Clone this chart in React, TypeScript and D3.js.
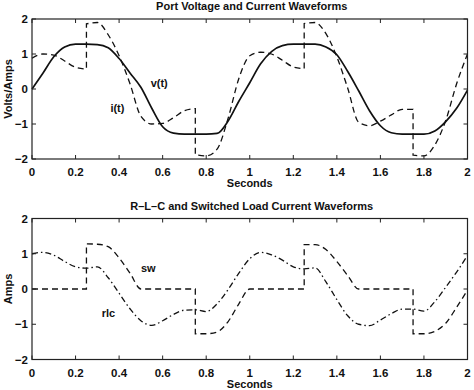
import React from "react";
import * as d3 from "d3";

// sample times (s); jumps happen at the switching instants
const times = [
  0, 0.05, 0.1, 0.15, 0.2, 0.25, 0.3, 0.35, 0.4, 0.45, 0.5, 0.55, 0.6, 0.65, 0.7, 0.75, 0.8, 0.85, 0.9, 0.95,
  1, 1.05, 1.1, 1.15, 1.2, 1.25, 1.3, 1.35, 1.4, 1.45, 1.5, 1.55, 1.6, 1.65, 1.7, 1.75, 1.8, 1.85, 1.9, 1.95, 2,
];
const jumpTimes = [0.25, 0.75, 1.25, 1.75];

// port voltage v(t)
const vData = [
  0, 0.45, 0.92, 1.2, 1.28, 1.28, 1.27, 1.18, 0.87, 0.46, 0.05, -0.55, -1.08, -1.26, -1.29, -1.29, -1.29, -1.27, -0.92, -0.35,
  0.18, 0.72, 1.07, 1.24, 1.28, 1.28, 1.28, 1.2, 0.98, 0.5, -0.05, -0.62, -1.05, -1.25, -1.29, -1.29, -1.29, -1.2, -0.93, -0.55, -0.03,
];
// port current i(t), value just after each instant; iPreJump = value just before the jump
const iData = [
  0.88, 1.0, 0.97, 0.8, 0.62, 1.86, 1.9, 1.55, 0.95, 0.15, -0.78, -1.0, -0.98, -0.82, -0.62, -1.88, -1.91, -1.72, -0.85, 0.3,
  0.95, 1.05, 1.0, 0.82, 0.63, 1.87, 1.9, 1.58, 0.92, 0.02, -0.95, -1.05, -0.92, -0.74, -0.58, -1.89, -1.91, -1.6, -0.9, 0.15, 1.0,
];
const iPreJump = [0.57, -0.56, 0.58, -0.58];

// R-L-C branch current
const rlcData = [
  1.0, 1.04, 0.96, 0.78, 0.63, 0.59, 0.63, 0.32, -0.12, -0.56, -0.9, -1.03, -0.9, -0.72, -0.6, -0.59, -0.64, -0.42, -0.02, 0.45,
  0.86, 1.04, 0.97, 0.82, 0.63, 0.57, 0.6, 0.2, -0.3, -0.76, -1.0, -1.04, -0.88, -0.7, -0.57, -0.57, -0.63, -0.36, 0.05, 0.48, 0.95,
];
// switched load current
const swData = [
  0, 0, 0, 0, 0, 1.28, 1.27, 1.2, 0.88, 0.45, 0, 0, 0, 0, 0, -1.27, -1.27, -1.22, -0.93, -0.42,
  0, 0, 0, 0, 0, 1.26, 1.26, 1.12, 0.78, 0.38, 0, 0, 0, 0, 0, -1.27, -1.27, -1.2, -0.97, -0.52, -0.03,
];
const swPreJump = [0, 0, 0, 0];

const xTicks = [0, 0.2, 0.4, 0.6, 0.8, 1, 1.2, 1.4, 1.6, 1.8, 2];
const yTicks = [-2, -1, 0, 1, 2];

const W = 474;
const H = 390;
const left = 32;
const right = 467.5;
const font = "'Liberation Sans', Arial, Helvetica, sans-serif";

const x = d3.scaleLinear().domain([0, 2]).range([left, right]);

function buildPath(vals: number[], pre: number[] | null, y: d3.ScaleLinear<number, number>) {
  const line = d3
    .line<[number, number]>()
    .x(d => x(d[0]))
    .y(d => y(d[1]))
    .curve(d3.curveMonotoneX);
  const segs: [number, number][][] = [];
  let cur: [number, number][] = [];
  times.forEach((t, k) => {
    const j = jumpTimes.indexOf(t);
    if (pre && j >= 0) {
      cur.push([t, pre[j]]);
      segs.push(cur);
      cur = [[t, vals[k]]];
    } else {
      cur.push([t, vals[k]]);
    }
  });
  segs.push(cur);
  return segs.map((s, n) => (n === 0 ? line(s) : "L" + (line(s) as string).slice(1))).join("");
}

const Panel: React.FC<{
  top: number;
  bottom: number;
  title: string;
  ylabel: string;
  children: (y: d3.ScaleLinear<number, number>) => React.ReactNode;
}> = ({ top, bottom, title, ylabel, children }) => {
  const y = d3.scaleLinear().domain([-2, 2]).range([bottom, top]);
  const tk = 4;
  return (
    <g>
      <text x={(left + right) / 2 + 2} y={top - 9} textAnchor="middle" fontSize={11} fontFamily={font} fontWeight="bold" fill="#111">
        {title}
      </text>
      {children(y)}
      <rect x={left} y={top} width={right - left} height={bottom - top} fill="none" stroke="#222" strokeWidth={1.2} />
      {xTicks.map(t => (
        <g key={"x" + t}>
          <line x1={x(t)} x2={x(t)} y1={bottom} y2={bottom - tk} stroke="#222" />
          <line x1={x(t)} x2={x(t)} y1={top} y2={top + tk} stroke="#222" />
          <text x={x(t)} y={bottom + 17} textAnchor="middle" fontSize={11.5} fontFamily={font} fontWeight="bold" fill="#111">
            {String(t)}
          </text>
        </g>
      ))}
      {yTicks.map(t => (
        <g key={"y" + t}>
          <line x1={left} x2={left + tk} y1={y(t)} y2={y(t)} stroke="#222" />
          <line x1={right} x2={right - tk} y1={y(t)} y2={y(t)} stroke="#222" />
          <text x={left - 4} y={y(t) + 4} textAnchor="end" fontSize={11.5} fontFamily={font} fontWeight="bold" fill="#111">
            {t < 0 ? "\u2212" + Math.abs(t) : String(t)}
          </text>
        </g>
      ))}
      <text x={(left + right) / 2} y={bottom + 28} textAnchor="middle" fontSize={11} fontFamily={font} fontWeight="bold" fill="#111">
        Seconds
      </text>
      <text
        transform={`translate(12, ${(top + bottom) / 2}) rotate(-90)`}
        textAnchor="middle"
        fontSize={11}
        fontFamily={font}
        fontWeight="bold"
        fill="#111"
      >
        {ylabel}
      </text>
    </g>
  );
};

export default function App() {
  const labelStyle = { fontSize: 11, fontFamily: font, fontWeight: "bold" as const, fill: "#111" };
  return (
    <svg width={W} height={H} style={{ position: "absolute", left: 0, top: 0, background: "#fff" }}>
      <Panel top={19} bottom={159} title="Port Voltage and Current Waveforms" ylabel="Volts/Amps">
        {y => (
          <g fill="none" stroke="#111">
            <path d={buildPath(vData, null, y)} strokeWidth={1.7} />
            <path d={buildPath(iData, iPreJump, y)} strokeWidth={1.3} strokeDasharray="6,4" />
            <text x={x(0.545)} y={y(0.05)} {...labelStyle} stroke="none">v(t)</text>
            <text x={x(0.36)} y={y(-0.65)} {...labelStyle} stroke="none">i(t)</text>
          </g>
        )}
      </Panel>
      <Panel top={218.5} bottom={359.5} title="R–L–C and Switched Load Current Waveforms" ylabel="Amps">
        {y => (
          <g fill="none" stroke="#111">
            <path d={buildPath(swData, swPreJump, y)} strokeWidth={1.3} strokeDasharray="6,4" />
            <path d={buildPath(rlcData, null, y)} strokeWidth={1.3} strokeDasharray="6,3,1.5,3" />
            <text x={x(0.5)} y={y(0.47)} {...labelStyle} stroke="none">sw</text>
            <text x={x(0.32)} y={y(-0.8)} {...labelStyle} stroke="none">rlc</text>
          </g>
        )}
      </Panel>
    </svg>
  );
}
